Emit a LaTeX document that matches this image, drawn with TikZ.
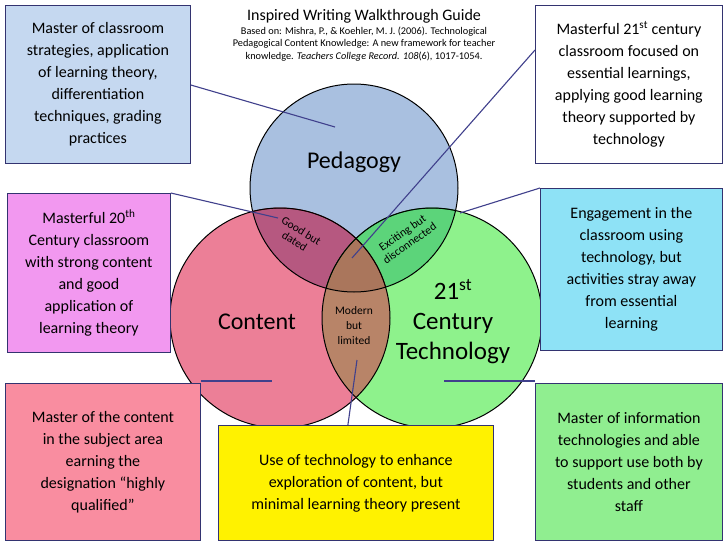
\documentclass[tikz,border=0pt]{standalone}
\usepackage{fontspec}
\setmainfont{Carlito}
\begin{document}
\begin{tikzpicture}[x=1pt,y=-1pt,
  bx/.style={draw=black!60!blue!60!gray,line width=0.8pt,align=center,inner sep=3pt,font=\fontsize{16}{22}\selectfont,anchor=north west},
  ln/.style={draw=black!40!blue!50!gray,line width=1.1pt},
  small/.style={font=\fontsize{11.5}{12.5}\selectfont,align=center}]
\useasboundingbox (0,0) rectangle (728,546);
\fill[white] (0,0) rectangle (728,546);
\definecolor{ped}{HTML}{A9C0E0}
\definecolor{con}{HTML}{EC7F97}
\definecolor{tec}{HTML}{8EF28C}
\def\P{(354,188) circle (104)}
\def\C{(280,318) circle (110)}
\def\T{(432,318) circle (110)}
\fill[con] \C; \fill[tec] \T; \fill[ped] \P;
\begin{scope}\clip \P; \fill[fill={rgb,255:red,182;green,88;blue,128}] \C; \end{scope}
\begin{scope}\clip \P; \fill[fill={rgb,255:red,92;green,212;blue,122}] \T; \end{scope}
\begin{scope}\clip \C; \fill[fill={rgb,255:red,184;green,132;blue,104}] \T; \end{scope}
\begin{scope}\clip \C; \clip \T; \fill[fill={rgb,255:red,170;green,118;blue,92}] \P; \end{scope}
\begin{scope}\clip \P; \draw[line width=0.8pt,black!60!red] \C; \end{scope}
\begin{scope}\clip \P; \draw[line width=0.8pt,black!60!green] \T; \end{scope}
\draw[line width=1pt] \P; \draw[line width=1pt] \C; \draw[line width=1pt] \T;
\node (pedlabel) at (354,162) {\fontsize{24}{26}\selectfont Pedagogy};
\node (conlabel) at (257,322) {\fontsize{24}{26}\selectfont Content};
\node (teclabel) at (453,322) [align=center,font=\fontsize{25}{30}\selectfont] {21\textsuperscript{st}\\Century\\Technology};
\node (gbd) at (298,236) [small,rotate=-32] {Good but\\dated};
\node (ebd) at (406,238) [small,rotate=35] {Exciting but\\disconnected};
\node (mbl) at (354,326) [small,font=\fontsize{11.5}{15}\selectfont] {Modern\\but\\limited};
\node (title) at (364,16) {\fontsize{16}{18}\selectfont Inspired Writing Walkthrough Guide};
\node (cite) at (364,44) [align=center,font=\fontsize{10.3}{12.5}\selectfont] {Based on: Mishra, P., \& Koehler, M. J. (2006). Technological\\Pedagogical Content Knowledge: A new framework for teacher\\knowledge. \textit{Teachers College Record. 108}(6), 1017-1054.};
\node[bx,fill={rgb,255:red,197;green,216;blue,240},minimum width=185,minimum height=158] (b1) at (5,5) {Master of classroom\\strategies, application\\of learning theory,\\differentiation\\techniques, grading\\practices};
\node[bx,fill=white,minimum width=187,minimum height=158] (b2) at (535,5) {Masterful 21\textsuperscript{st} century\\classroom focused on\\essential learnings,\\applying good learning\\theory supported by\\technology};
\node[bx,fill={rgb,255:red,242;green,152;blue,240},minimum width=163,minimum height=159] (b3) at (7,193) {Masterful 20\textsuperscript{th}\\Century classroom\\with strong content\\and good\\application of\\learning theory};
\node[bx,fill={rgb,255:red,142;green,226;blue,246},minimum width=182,minimum height=162] (b4) at (540,188) {Engagement in the\\classroom using\\technology, but\\activities stray away\\from essential\\learning};
\node[bx,fill={rgb,255:red,249;green,141;blue,160},minimum width=195,minimum height=157] (b5) at (5,383) {Master of the content\\in the subject area\\earning the\\designation “highly\\qualified”};
\node[bx,fill=yellow,minimum width=275,minimum height=115] (b6) at (218,425) {Use of technology to enhance\\exploration of content, but\\minimal learning theory present};
\node[bx,fill={rgb,255:red,144;green,238;blue,144},minimum width=187,minimum height=157] (b7) at (535,383) {Master of information\\technologies and able\\to support use both by\\students and other\\staff};
\coordinate (e1) at (335,127); \coordinate (e2) at (352,258); \coordinate (e3) at (278,218);
\coordinate (e4) at (460,213); \coordinate (e5) at (272,381); \coordinate (e6) at (357,360); \coordinate (e7) at (444,381);
\draw[ln] (b1.east |- 0,85) -- (e1);
\draw[ln] (b2.west |- 0,50) -- (e2);
\draw[ln] (b3.north east) -- (e3);
\draw[ln] (b4.north west) -- (e4);
\draw[ln] (b5.north east) ++(0,-2) -- (e5);
\draw[ln] (b6.north |- 0,425) ++(-8,0) -- (e6);
\draw[ln] (b7.north west) ++(0,-2) -- (e7);
\end{tikzpicture}
\end{document}
